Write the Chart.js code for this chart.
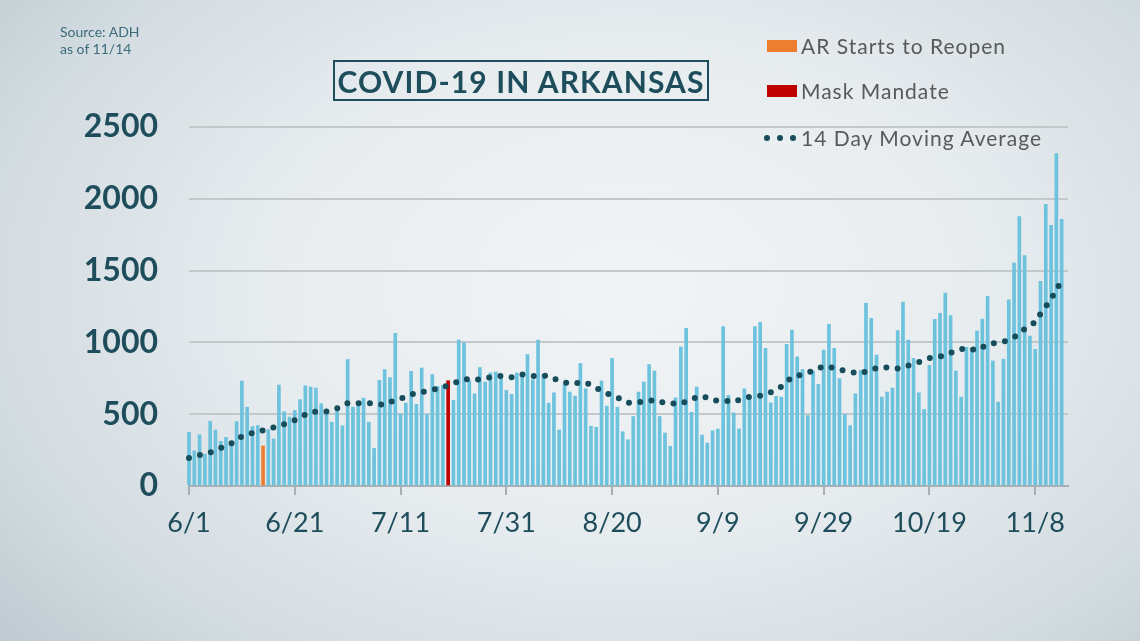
<!DOCTYPE html>
<html>
<head>
<meta charset="utf-8">
<title>COVID-19 in Arkansas</title>
<script src="https://cdn.jsdelivr.net/npm/chart.js@4.4.1/dist/chart.umd.min.js"></script>
<style>
  html, body { margin: 0; padding: 0; }
  body {
    width: 1140px; height: 641px; overflow: hidden; position: relative;
    background: radial-gradient(ellipse 80% 95% at 55% 45%, #f1f4f6 0%, #e7ecef 40%, #d3dce1 70%, #b4c2c9 100%);
    font-family: Lato, 'Open Sans', sans-serif;
  }
  #chart { position: absolute; left: 0; top: 0; }
  .source { position: absolute; left: 60px; top: 23px; font-size: 14px; line-height: 17px; color: #3d6b7a; }
  .title {
    position: absolute; left: 333px; top: 60px; width: 372px; height: 37px;
    border: 2px solid #1e4d5c; color: #1e4d5c;
    font-size: 30px; font-weight: 700; letter-spacing: 1.1px;
    text-align: center; line-height: 38px;
  }
  .legend .item {
    position: absolute; left: 801px; height: 24px; line-height: 24px;
    font-size: 21px; letter-spacing: 1px; color: #595959; white-space: nowrap;
  }
  .legend .swatch { position: absolute; left: 767px; width: 30px; height: 12px; }
  .legend .dot { position: absolute; width: 6px; height: 6px; border-radius: 50%; background: #174c5b; }
</style>
</head>
<body>
<canvas id="chart" width="1140" height="641"></canvas>

<div class="source">Source: ADH<br>as of 11/14</div>
<div class="title">COVID-19 IN ARKANSAS</div>

<div class="legend">
  <div class="swatch" style="top:40px; background:#ed7d31"></div>
  <div class="item" style="top:34px">AR Starts to Reopen</div>
  <div class="swatch" style="top:85px; background:#c00000"></div>
  <div class="item" style="top:79px">Mask Mandate</div>
  <div class="dot" style="left:764px; top:135px"></div>
  <div class="dot" style="left:777px; top:135px"></div>
  <div class="dot" style="left:790px; top:135px"></div>
  <div class="item" style="top:126px">14 Day Moving Average</div>
</div>

<script>
// daily new cases, one value per day starting 6/1
const dailyCases = [
  374, 245, 357, 222, 451, 390, 311, 339, 306, 449,
  731, 549, 414, 421, 279, 393, 328, 703, 517, 480,
  526, 601, 698, 689, 682, 573, 520, 444, 526, 420,
  881, 549, 561, 612, 444, 262, 736, 811, 755, 1063,
  502, 577, 799, 568, 822, 498, 776, 694, 701, 733,
  596, 1016, 997, 733, 642, 825, 724, 787, 794, 759,
  666, 638, 787, 759, 916, 741, 1016, 776, 577, 649,
  390, 705, 654, 626, 853, 677, 416, 409, 731, 556,
  888, 549, 378, 322, 484, 654, 724, 846, 801, 484,
  369, 276, 614, 969, 1098, 514, 689, 355, 299, 385,
  397, 1110, 631, 509, 397, 677, 607, 1110, 1140, 958,
  579, 624, 619, 986, 1086, 899, 811, 491, 801, 708,
  946, 1126, 958, 748, 498, 420, 642, 806, 1273, 1168,
  911, 619, 654, 682, 1082, 1280, 1016, 888, 649, 533,
  841, 1161, 1203, 1343, 1187, 801, 619, 965, 958, 1079,
  1163, 1320, 871, 584, 883, 1296, 1553, 1876, 1605, 1044,
  951, 1425, 1962, 1815, 2315, 1857
];

const REOPEN_DAY = 14; // 6/15
const MASK_DAY = 49;   // 7/20

// 14 day moving average
const avgDays = [
  0, 2, 4, 6, 8, 10, 13, 15, 17, 19, 21, 23, 26, 28, 30, 32, 34, 37, 39, 41,
  43, 45, 48, 50, 52, 54, 56, 59, 61, 63, 65, 68, 70, 72, 75, 77, 79, 81, 83, 86,
  88, 90, 93, 95, 97, 99, 101, 103, 105, 108, 110, 112, 114, 116, 118, 120, 122, 124, 127, 129,
  131, 134, 136, 138, 140, 143, 145, 147, 149, 151, 154, 156, 158, 160, 161, 163, 164, 165
];
const avgValues = [
  195, 215, 234, 264, 297, 346, 381, 392, 423, 439, 477, 516, 519, 540, 577, 577, 577, 565, 600, 619,
  652, 659, 687, 715, 745, 736, 752, 766, 757, 776, 766, 768, 731, 712, 722, 682, 645, 617, 579, 586,
  600, 577, 572, 607, 628, 596, 596, 584, 617, 628, 652, 691, 757, 778, 801, 834, 822, 801, 783, 811,
  829, 818, 839, 862, 890, 909, 944, 962, 944, 988, 1004, 1035, 1093, 1140, 1200, 1300, 1370, 1425
];

// one label every 20 days
const tickLabels = ['6/1', '6/21', '7/11', '7/31', '8/20', '9/9', '9/29', '10/19', '11/8'];

const BLUE = '#6dc2de';
const ORANGE = '#ed7d31';
const RED = '#c00000';
const DOT = '#174c5b';
const TEAL = '#1e4d5c';
const GRID = '#c3c8cb';
const AXIS = '#a9afb3';

Chart.defaults.font.family = "Lato, 'Open Sans', sans-serif";

new Chart(document.getElementById('chart'), {
  type: 'bar',
  data: {
    datasets: [
      {
        type: 'line',
        label: '14 Day Moving Average',
        data: avgDays.map((d, i) => ({ x: d, y: avgValues[i] })),
        borderColor: DOT,
        borderWidth: 6,
        borderDash: [0, 11.3],
        borderCapStyle: 'round',
        pointRadius: 0,
        tension: 0,
        clip: 8,
        order: 0,
      },
      {
        label: 'Daily cases',
        data: dailyCases.map((v, i) => ({ x: i, y: v })),
        backgroundColor: dailyCases.map((v, i) => i === REOPEN_DAY ? ORANGE : i === MASK_DAY ? RED : BLUE),
        barThickness: 3,
        clip: 8,
        order: 1,
      },
    ],
  },
  options: {
    responsive: false,
    animation: false,
    devicePixelRatio: 1,
    layout: { padding: { left: 0, right: 72, top: 127, bottom: 85 } },
    plugins: { legend: { display: false }, tooltip: { enabled: false } },
    scales: {
      x: {
        type: 'linear',
        min: 0,
        max: 166.2,
        offset: false,
        grid: { offset: false, drawOnChartArea: false, drawTicks: true, tickLength: 9, color: AXIS, lineWidth: 2 },
        border: { color: AXIS, width: 2 },
        ticks: {
          autoSkip: false,
          maxRotation: 0,
          padding: 12,
          color: TEAL,
          font: { size: 27 },
          callback: (v) => tickLabels[v / 20],
        },
        afterBuildTicks: (s) => { s.ticks = tickLabels.map((t, k) => ({ value: k * 20 })); },
        afterFit: (s) => { s.height = 70; },
      },
      y: {
        min: 0,
        max: 2500,
        grid: { color: GRID, lineWidth: 2, drawTicks: false },
        border: { display: false },
        ticks: {
          stepSize: 500,
          padding: 31,
          color: TEAL,
          font: { size: 32, weight: 'bold' },
          callback: (v) => String(v),
        },
        afterFit: (s) => { s.width = 189; },
      },
    },
  },
});
</script>
</body>
</html>
